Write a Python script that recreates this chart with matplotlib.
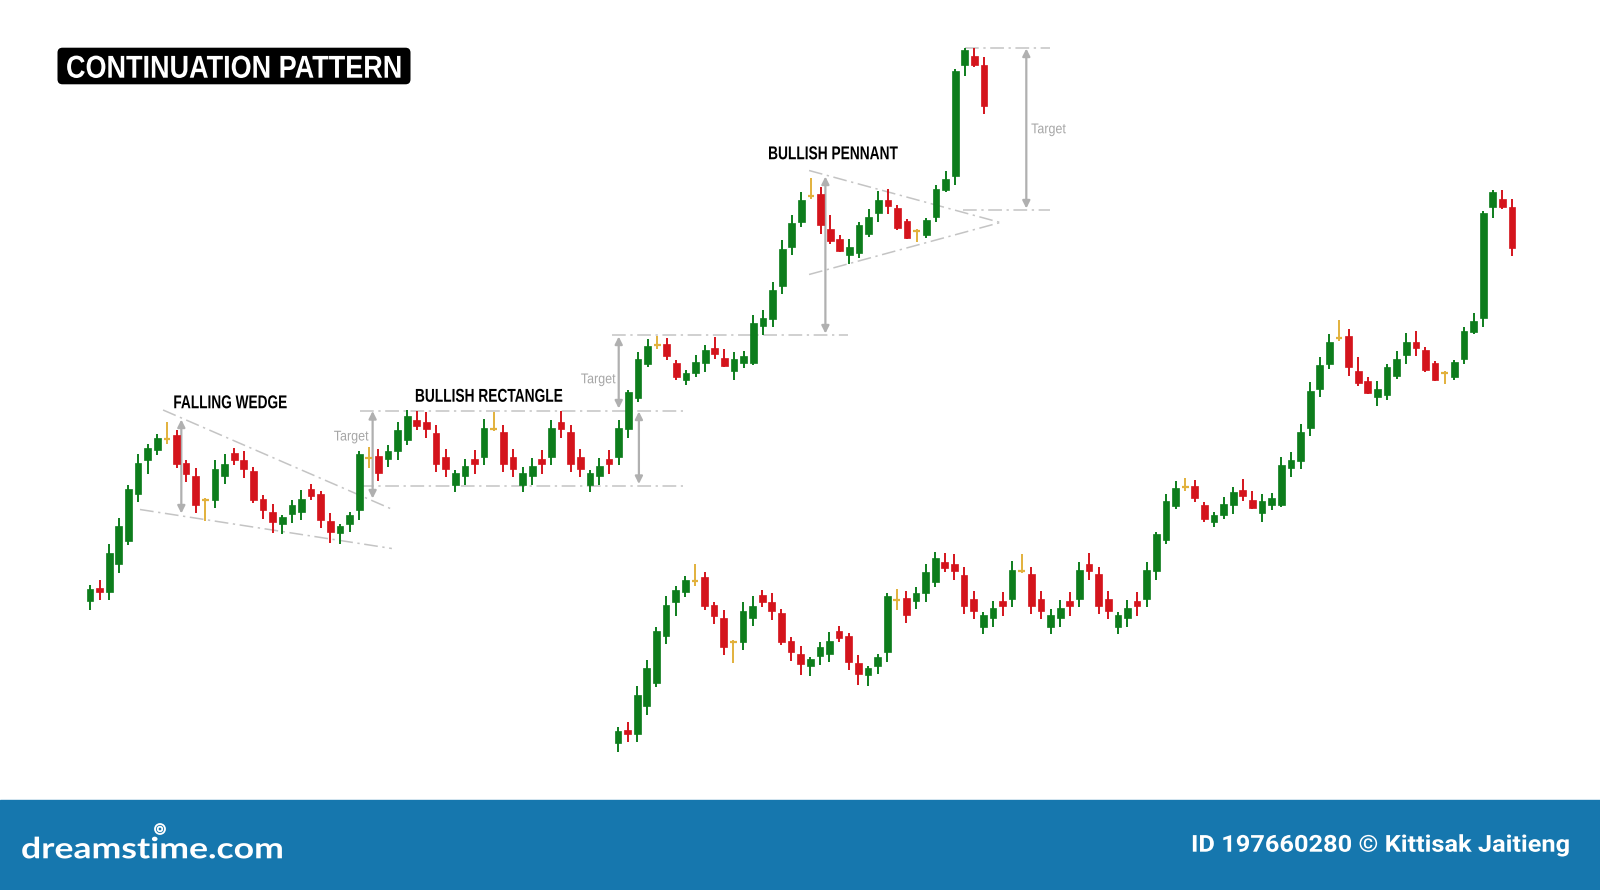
import matplotlib
matplotlib.use("Agg")
import matplotlib.pyplot as plt
from matplotlib.patches import Rectangle, FancyBboxPatch, Circle
from matplotlib.patheffects import AbstractPathEffect
from matplotlib.transforms import Affine2D

# OHLC prices of the session (one entry per candle)
opens = [3.9, 6.5, 5.7, 11.3, 15.9, 25.2, 32.0, 34.1, 36.3, 37.0,
         31.5, 28.9, 24.1, 24.0, 28.9, 33.5, 32.0, 29.8, 24.3, 21.7,
         19.2, 21.2, 21.7, 26.2, 25.3, 19.8, 17.5, 19.3, 22.0, 32.5,
         32.8, 32.3, 33.9, 36.1, 40.1, 39.6, 37.5, 32.7, 27.0, 28.9,
         32.3, 32.7, 38.2, 37.7, 32.7, 27.0, 28.9, 32.3, 32.7, 39.7,
         37.7, 32.7, 27.0, 28.9, 32.3, 32.7, 38.2, 44.5, 51.2, 55.0,
         55.2, 51.5, 48.0, 49.5, 51.5, 54.5, 52.5, 49.8, 51.5, 51.5,
         58.8, 60.3, 66.9, 74.7, 79.7, 84.9, 85.3, 78.3, 76.3, 73.0,
         73.5, 77.2, 81.5, 84.1, 82.5, 79.8, 77.8, 77.1, 80.7, 86.1,
         88.8, 111.0, 112.7, 110.9]
highs = [7.0, 8.1, 15.2, 20.5, 27.1, 33.2, 35.3, 37.3, 39.7, 38.0,
         32.0, 30.5, 24.5, 32.0, 33.2, 34.5, 33.8, 30.7, 25.0, 23.3,
         21.0, 24.1, 26.0, 27.2, 25.9, 21.5, 19.3, 21.7, 33.8, 34.7,
         34.3, 35.0, 39.7, 42.0, 41.8, 41.7, 39.0, 34.3, 30.0, 32.3,
         34.0, 40.3, 41.7, 39.0, 34.3, 30.7, 32.5, 34.1, 40.1, 41.8,
         39.0, 34.3, 30.0, 32.5, 34.0, 40.0, 46.1, 53.7, 56.3, 56.8,
         56.5, 52.0, 50.1, 53.0, 55.0, 56.7, 54.3, 53.7, 53.8, 61.1,
         62.0, 67.7, 76.0, 81.1, 85.7, 88.5, 86.7, 81.0, 77.0, 76.3,
         79.7, 82.3, 85.8, 86.2, 83.0, 80.3, 78.2, 80.5, 87.1, 89.9,
         110.3, 114.5, 114.5, 112.7]
lows = [2.1, 4.0, 4.0, 9.5, 15.1, 23.7, 29.3, 33.0, 35.3, 30.5,
        27.6, 21.5, 19.9, 22.5, 27.3, 31.0, 28.5, 23.5, 20.3, 17.5,
        17.2, 19.5, 20.0, 24.0, 18.5, 15.5, 15.3, 17.7, 20.1, 30.5,
        27.8, 30.7, 32.0, 35.1, 38.0, 36.5, 29.7, 28.7, 25.7, 27.1,
        29.3, 31.0, 37.8, 29.7, 28.7, 25.7, 27.1, 29.3, 31.0, 36.5,
        29.7, 28.7, 25.7, 27.1, 29.3, 31.0, 36.5, 43.7, 50.7, 54.3,
        52.1, 48.0, 47.0, 48.7, 49.7, 52.3, 50.7, 48.0, 50.5, 51.0,
        57.0, 58.7, 65.2, 73.0, 78.7, 84.2, 77.3, 75.3, 73.6, 71.2,
        72.5, 76.7, 79.7, 81.3, 78.0, 76.3, 75.7, 76.5, 79.7, 85.7,
        87.0, 108.8, 110.7, 101.2]
closes = [6.3, 5.7, 13.5, 18.9, 26.3, 31.5, 34.5, 36.5, 36.3, 31.3,
          29.2, 23.1, 24.1, 30.3, 31.3, 32.0, 30.2, 24.1, 22.0, 19.7,
          20.7, 23.0, 24.2, 24.9, 20.0, 17.7, 18.9, 21.1, 33.2, 32.5,
          29.5, 33.9, 38.0, 40.9, 38.8, 38.2, 31.3, 30.3, 29.5, 30.9,
          31.2, 38.5, 38.2, 31.3, 30.3, 29.5, 30.9, 31.2, 38.5, 38.3,
          31.3, 30.3, 29.5, 30.9, 31.2, 38.5, 45.7, 52.2, 54.9, 55.0,
          52.8, 48.7, 49.5, 51.7, 54.0, 53.3, 50.9, 52.2, 52.9, 59.5,
          60.5, 66.1, 74.3, 79.5, 84.1, 84.9, 79.0, 75.9, 73.9, 74.7,
          79.0, 80.7, 84.0, 82.8, 78.5, 76.5, 77.8, 80.1, 86.2, 88.3,
          109.7, 114.0, 111.0, 102.8]

# Pattern guides: (x0, y0, x1, y1) in candle index / price units
wedge_lines = [(7.6, 42.0, 31.6, 22.0), (5.2, 22.1, 31.4, 14.3)]
rect_lines = [(28.1, 41.9, 61.7, 41.9), (28.1, 26.8, 61.7, 26.8),
              (54.3, 57.0, 78.8, 57.0)]
pennant_lines = [(74.8, 89.9, 94.7, 79.5), (74.8, 69.1, 94.7, 79.5)]
target_lines = [(91.0, 114.5, 99.9, 114.5), (90.8, 82.1, 99.9, 82.1)]
# Measured moves: (x, price_from, price_to)
arrows = [(9.5, 40.1, 21.3), (29.4, 41.8, 24.3), (55.0, 56.7, 42.3),
          (57.1, 41.7, 27.2), (76.5, 88.7, 57.3), (97.4, 114.3, 82.3)]
# Labels: (text, x, baseline price, width in px)
pattern_labels = [("FALLING WEDGE", 14.6, 42.35, 114),
                  ("BULLISH RECTANGLE", 41.5, 43.65, 148),
                  ("BULLISH PENNANT", 77.3, 92.15, 130)]
# "Target" tags: (x, baseline price, alignment)
target_labels = [(29.0, 35.9, "right"), (54.7, 47.35, "right"),
                 (97.9, 97.35, "left")]

W, H = 1600, 890
STEP = 9.613          # pixels per candle
X0, Y0, PPU = 90, 620, 5.0
SHIFT_X, SHIFT_Y = 528, 142

GREEN = "#0d7d1c"
RED = "#d4141c"
GOLD = "#e2b13c"
GUIDE = "#c4c4c4"
ARROW = "#b0b0b0"
SANS = ["Liberation Sans", "DejaVu Sans"]

fig = plt.figure(figsize=(W / 100, H / 100), dpi=100)
fig.patch.set_facecolor("white")
renderer = fig.canvas.get_renderer()
# top-left pixel coordinates -> display coordinates
PIX = Affine2D().scale(1, -1).translate(0, H)


class Stretch(AbstractPathEffect):
    """Scale glyph outlines horizontally about the text anchor."""

    def __init__(self, text, sx):
        super().__init__()
        self.text = text
        self.sx = sx

    def draw_path(self, renderer, gc, tpath, affine, rgbFace=None):
        x, _ = self.text.get_transform().transform(self.text.get_position())
        t = Affine2D().translate(-x, 0).scale(self.sx, 1).translate(x, 0)
        renderer.draw_path(gc, tpath, affine + t, rgbFace)


def fit_width(text, width_px):
    w = text.get_window_extent(renderer).width
    text.set_path_effects([Stretch(text, width_px / w)])
    return text


def make_axes(left_px, down_px):
    ax = fig.add_axes([left_px / W, -down_px / H, 1, 1])
    ax.set_xlim(-X0 / STEP, (W - X0) / STEP)
    ax.set_ylim(-(H - Y0) / PPU, Y0 / PPU)
    ax.axis("off")
    ax.patch.set_visible(False)
    return ax


def draw_candles(ax):
    for i, (o, h, l, c) in enumerate(zip(opens, highs, lows, closes)):
        if o == c:
            col = GOLD
            ax.hlines(c, i - 0.35, i + 0.35, color=col, lw=1.6, zorder=3)
        else:
            col = GREEN if c > o else RED
            ax.bar(i, abs(c - o), bottom=min(o, c), width=0.7, color=col,
                   edgecolor=col, lw=0.5, zorder=3)
        ax.vlines(i, l, h, color=col, lw=1.4, zorder=2)


ax1 = make_axes(0, 0)
ax2 = make_axes(SHIFT_X, SHIFT_Y)
draw_candles(ax1)
draw_candles(ax2)

for x0, y0, x1, y1 in wedge_lines + pennant_lines + rect_lines + target_lines:
    ax1.plot([x0, x1], [y0, y1], color=GUIDE, lw=1.1,
             ls=(0, (9, 3, 1.5, 3)), zorder=1)

for x, ya, yb in arrows:
    ax1.annotate("", xy=(x, yb), xytext=(x, ya),
                 arrowprops=dict(arrowstyle="<|-|>", color=ARROW, lw=1.6,
                                 mutation_scale=11, shrinkA=0, shrinkB=0),
                 zorder=1)

for text, x, y, w in pattern_labels:
    t = ax1.text(x, y, text, ha="center", va="baseline", fontsize=13.4,
                 fontweight="bold", family=SANS, color="black")
    fit_width(t, w)

for x, y, ha in target_labels:
    t = ax1.text(x, y, "Target", ha=ha, va="baseline", fontsize=10.2,
                 family=SANS, color="#a6a6a6")
    fit_width(t, 35)

# Heading tag
fig.add_artist(FancyBboxPatch((57.5, 47.7), 353, 36.6,
                              boxstyle="round,pad=0,rounding_size=5",
                              transform=PIX, fc="black", ec="none", zorder=5))
title = fig.text(234 / W, 1 - 77.7 / H, "CONTINUATION PATTERN", ha="center",
                 va="baseline", fontsize=22.8, fontweight="bold", family=SANS,
                 color="white", zorder=6)
fit_width(title, 336)

# Footer band
fig.add_artist(Rectangle((0, 0), 1, 90 / H, transform=fig.transFigure,
                         color="#1677ae", zorder=10))
brand = fig.text(21 / W, 1 - 858.3 / H, "dreamstime.com", ha="left",
                 va="baseline", fontsize=21, fontweight="bold", color="white",
                 family=["Lato", "DejaVu Sans"], zorder=11)
fit_width(brand, 262)
# small spiral mark above the "i"
for r in (5.0, 2.3):
    fig.add_artist(Circle((160, 829), r, transform=PIX, fill=False,
                          ec="white", lw=1.3, zorder=11))
credit = fig.text(1571 / W, 1 - 851.7 / H, "ID 197660280 \u00a9 Kittisak Jaitieng",
                  ha="right", va="baseline", fontsize=16.8, fontweight="bold",
                  color="white", family=["Roboto", "DejaVu Sans"], zorder=11)
fit_width(credit, 380)

fig.savefig("out.png", dpi=100, facecolor="white")
